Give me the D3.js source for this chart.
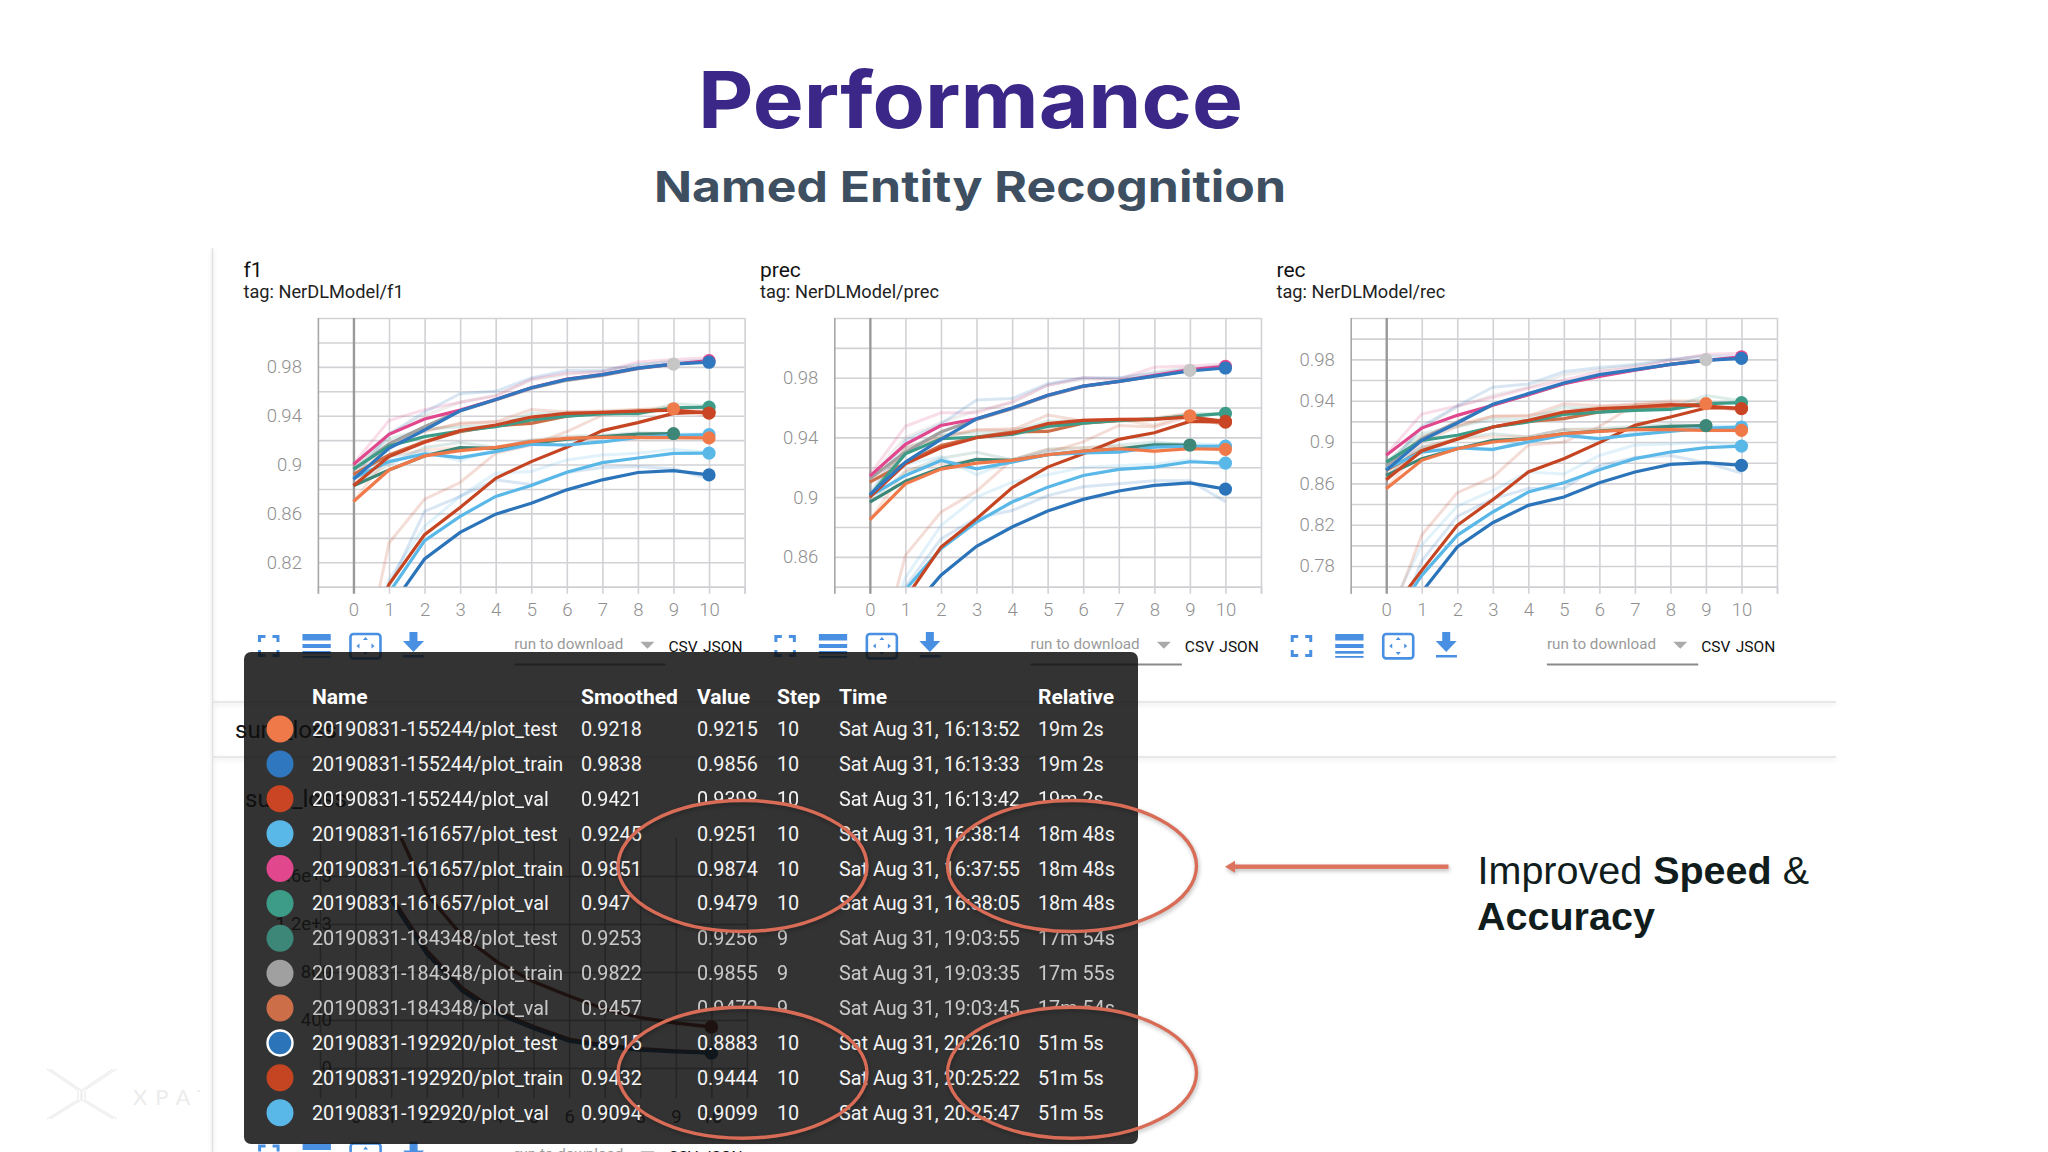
<!DOCTYPE html>
<html><head><meta charset="utf-8">
<script src="https://cdn.jsdelivr.net/npm/d3@7"></script>
<style>
html,body{margin:0;padding:0;background:#fff}
svg{display:block}
text{font-family:Roboto,sans-serif}
.soft{filter:drop-shadow(1px 2px 2px rgba(0,0,0,.28))}
.softer{filter:drop-shadow(0px 2px 2px rgba(0,0,0,.12))}
</style></head><body>
<svg id="c" width="2048" height="1152"></svg>
<script>
// ---------- run names, colours ----------
const runNames = ["20190831-155244/plot_test","20190831-155244/plot_train","20190831-155244/plot_val",
"20190831-161657/plot_test","20190831-161657/plot_train","20190831-161657/plot_val",
"20190831-184348/plot_test","20190831-184348/plot_train","20190831-184348/plot_val",
"20190831-192920/plot_test","20190831-192920/plot_train","20190831-192920/plot_val"];
const runColors = ["#f0794a","#2f78c0","#c94524","#5ab8e8","#e0478c","#3c9c88","#3d8778","#a0a0a0","#cc6e48","#2b74ba","#c54522","#5ab8e8"];
const endDotColors = ["#f0794a","#2f78c0","#c94524","#5ab8e8","#e0478c","#3c9c88","#3d8778","#c6c6c6","#ef7b4b","#2b74ba","#c54522","#5ab8e8"];
// ---------- tooltip table ----------
const tblSmoothed = ["0.9218","0.9838","0.9421","0.9245","0.9851","0.947","0.9253","0.9822","0.9457","0.8915","0.9432","0.9094"];
const tblValue = ["0.9215","0.9856","0.9398","0.9251","0.9874","0.9479","0.9256","0.9855","0.9472","0.8883","0.9444","0.9099"];
const tblStep = ["10","10","10","10","10","10","9","9","9","10","10","10"];
const tblTime = ["Sat Aug 31, 16:13:52","Sat Aug 31, 16:13:33","Sat Aug 31, 16:13:42","Sat Aug 31, 16:38:14","Sat Aug 31, 16:37:55","Sat Aug 31, 16:38:05","Sat Aug 31, 19:03:55","Sat Aug 31, 19:03:35","Sat Aug 31, 19:03:45","Sat Aug 31, 20:26:10","Sat Aug 31, 20:25:22","Sat Aug 31, 20:25:47"];
const tblRelative = ["19m 2s","19m 2s","19m 2s","18m 48s","18m 48s","18m 48s","17m 54s","17m 55s","17m 54s","51m 5s","51m 5s","51m 5s"];
const tblHeader = ["Name","Smoothed","Value","Step","Time","Relative"];
// ---------- f1 ----------
const f1Smooth = [
[.8698,.8956,.9071,.9114,.9141,.9188,.9215,.9223,.9223,.922,.9218],
[.888,.9133,.9283,.944,.9533,.9629,.9697,.9737,.9789,.9822,.9838],
[.8826,.9065,.9182,.9278,.9324,.9389,.9419,.9427,.9438,.9446,.9421],
[.8888,.9024,.9087,.9057,.9106,.9166,.916,.9185,.9223,.924,.9245],
[.9,.9248,.9373,.9446,.9533,.9629,.97,.9737,.9789,.9822,.9851],
[.8962,.9152,.9229,.9275,.931,.9365,.9397,.9414,.9419,.9465,.947],
[.8826,.8956,.9071,.9139,.9133,.9174,.9209,.9229,.925,.9253],
[.8956,.9169,.931,.9438,.9528,.9623,.969,.973,.9786,.9822],
[.892,.9079,.9188,.9269,.9318,.9337,.9397,.9424,.9435,.9457],
[.70,.7815,.8227,.8445,.8594,.8684,.8793,.8875,.8935,.8951,.8915],
[.73,.802,.8426,.8649,.8888,.9024,.9141,.9278,.9343,.9419,.9432],
[.72,.795,.8377,.8576,.8739,.8829,.8937,.9016,.9054,.9092,.9094]];
const f1Raw = [
[.87,.907,.912,.914,.913,.92,.922,.923,.921,.922,.9215],
[.889,.925,.943,.958,.96,.971,.977,.977,.982,.984,.9856],
[.883,.917,.927,.934,.935,.945,.943,.943,.945,.945,.9398],
[.889,.906,.911,.903,.913,.92,.915,.92,.925,.925,.9251],
[.9005,.936,.945,.951,.956,.97,.975,.976,.984,.986,.9874],
[.896,.921,.929,.931,.932,.942,.942,.943,.941,.95,.9479],
[.883,.90,.914,.918,.914,.92,.923,.924,.926,.9256],
[.896,.925,.94,.951,.957,.969,.974,.976,.981,.9855],
[.892,.914,.928,.933,.935,.937,.943,.944,.945,.9472],
[.71,.80,.8616,.8739,.8875,.8837,.8935,.8975,.8985,.8965,.8883],
[.70,.8358,.8717,.8853,.9092,.916,.927,.9405,.944,.945,.9444],
[.73,.806,.8494,.874,.8929,.8943,.9038,.9079,.9092,.9125,.9099]];
// ---------- prec ----------
const precSmooth = [
[.8848,.9089,.9188,.9228,.9246,.9284,.9308,.9324,.9308,.9324,.932],
[.9016,.9235,.9387,.9525,.9597,.9682,.9744,.9775,.9811,.9845,.9865],
[.90,.9223,.9331,.9398,.9429,.9492,.9514,.9521,.9523,.9536,.9507],
[.9007,.9145,.9246,.919,.9235,.9284,.9297,.9302,.9335,.934,.9342],
[.9141,.9353,.948,.9525,.9597,.9682,.9744,.9775,.9816,.9854,.9876],
[.9011,.929,.9391,.9402,.942,.9474,.9496,.9514,.9525,.9543,.9561],
[.8967,.9107,.9195,.9253,.9246,.9284,.9308,.9324,.9351,.9349],
[.9123,.9302,.9436,.9521,.9592,.9677,.9742,.9773,.9811,.9849],
[.91,.9228,.9346,.9402,.9436,.944,.9496,.9512,.9521,.9545],
[.75,.82,.8477,.8671,.88,.8907,.8985,.9041,.9079,.9096,.9054],
[.77,.832,.8666,.8855,.9063,.9201,.9291,.9387,.9431,.9507,.9503],
[.77,.838,.8655,.8833,.8967,.9067,.9145,.9186,.9201,.9237,.9228]];
const precRaw = [
[.885,.918,.922,.925,.925,.932,.933,.934,.93,.934,.932],
[.902,.938,.949,.965,.966,.976,.98,.98,.983,.986,.988],
[.90,.933,.94,.945,.945,.955,.951,.952,.953,.956,.948],
[.901,.922,.927,.915,.925,.931,.93,.932,.936,.936,.935],
[.915,.9475,.9565,.9565,.964,.975,.98,.979,.987,.988,.989],
[.901,.933,.942,.943,.944,.951,.951,.951,.952,.956,.956],
[.897,.917,.926,.93,.925,.932,.933,.935,.937,.935],
[.913,.94,.95,.958,.963,.975,.979,.979,.984,.987],
[.91,.93,.941,.945,.946,.946,.952,.952,.948,.956],
[.76,.84,.872,.886,.891,.901,.907,.909,.911,.911,.897],
[.77,.861,.89,.904,.925,.93,.937,.948,.947,.954,.948],
[.78,.846,.881,.90,.91,.915,.92,.921,.922,.925,.921]];
// ---------- rec ----------
const recSmooth = [
[.8548,.8823,.8935,.90,.9032,.9081,.9103,.9119,.9119,.9113,.9113],
[.8726,.9016,.9184,.9365,.9468,.9571,.9652,.97,.9752,.979,.981],
[.8635,.8913,.9026,.9145,.921,.929,.9323,.9339,.9361,.9348,.9323],
[.8742,.8903,.8942,.8929,.90,.9065,.9032,.9071,.9103,.9135,.9145],
[.8871,.9135,.9258,.9355,.9458,.9565,.9635,.9694,.9752,.979,.9823],
[.8806,.9016,.9065,.9145,.9194,.9268,.929,.9306,.9316,.9371,.9381],
[.8677,.8839,.8935,.9016,.9032,.9081,.9106,.9129,.9152,.9158],
[.8774,.9032,.9194,.9358,.9458,.9565,.9645,.9697,.9752,.9797],
[.8726,.8919,.9032,.9145,.92,.9226,.929,.9323,.9348,.9371],
[.70,.7548,.7984,.8219,.8387,.8468,.8606,.871,.8784,.88,.8774],
[.73,.7758,.8194,.8442,.871,.8839,.8994,.9161,.9242,.9329,.9329],
[.72,.771,.8097,.8323,.8516,.8606,.8732,.8839,.8903,.8945,.8961]];
const recRaw = [
[.855,.895,.903,.905,.905,.912,.912,.913,.912,.911,.911],
[.873,.915,.935,.953,.956,.968,.972,.975,.98,.983,.983],
[.864,.90,.915,.925,.925,.937,.935,.936,.938,.935,.93],
[.874,.895,.895,.892,.905,.912,.90,.91,.914,.916,.915],
[.888,.927,.935,.943,.952,.96,.968,.972,.979,.985,.986],
[.881,.908,.915,.922,.922,.934,.932,.934,.933,.945,.94],
[.868,.895,.903,.908,.905,.912,.913,.915,.917,.916],
[.878,.913,.934,.945,.953,.965,.97,.974,.979,.984],
[.873,.905,.917,.925,.926,.93,.934,.937,.94,.94],
[.70,.785,.828,.845,.855,.855,.877,.885,.887,.88,.87],
[.72,.81,.851,.866,.897,.90,.915,.936,.937,.935,.932],
[.73,.80,.838,.853,.871,.869,.887,.897,.898,.90,.897]];
// ---------- axis ticks ----------
const stepTicks = [0,1,2,3,4,5,6,7,8,9,10];
const stepGrid = [-1,0,1,2,3,4,5,6,7,8,9,10,11];
const f1Labels = [.82,.86,.9,.94,.98];
const f1Grid = [.8,.82,.84,.86,.88,.9,.92,.94,.96,.98,1,1.02];
const precLabels = [.86,.9,.94,.98];
const precGrid = [.84,.86,.88,.9,.92,.94,.96,.98,1,1.02];
const recLabels = [.78,.82,.86,.9,.94,.98];
const recGrid = [.76,.78,.8,.82,.84,.86,.88,.9,.92,.94,.96,.98,1,1.02];
// ---------- loss chart behind the tooltip ----------
const lossLabels = [0,400,800,1200,1600];
const lossNames = ["1.6e+3","1.2e+3","800","400","0"];
const lossSteps = [1,2,3,4,5,6,7,8,9,10];
const lossUpper = [2100,1450,1100,880,720,600,490,420,375,342];
const lossLower = [1400,950,640,450,330,225,180,150,135,125];
const lossLowerB = [1430,980,665,470,345,240,190,160,142,130];

const svg = d3.select("#c");
svg.append("rect").attr("width",2048).attr("height",1152).attr("fill","#fff");

// titles
svg.append("text").text("Performance").attr("x",698).attr("y",128)
  .attr("textLength",545).attr("lengthAdjust","spacingAndGlyphs")
  .style("font-family","Inter").style("font-weight",700).style("font-size","78px").attr("fill","#3b2788");
svg.append("text").text("Named Entity Recognition").attr("x",654).attr("y",202)
  .attr("textLength",632).attr("lengthAdjust","spacingAndGlyphs")
  .style("font-family","Inter").style("font-weight",700).style("font-size","43px").attr("fill","#3d4f61");

// watermark
const wm = svg.append("g").attr("fill","none").attr("stroke","#ececec").attr("stroke-width",1.2);
[[[46.7,1069],[78,1090],[78,1100],[46.7,1119]],[[116.7,1069],[85,1090],[85,1100],[116.7,1119]],
 [[50,1069],[81,1090],[81,1100],[50,1119]],[[113,1069],[82,1090],[82,1100],[113,1119]]]
 .forEach(p=>wm.append("path").attr("d",d3.line()(p)));
svg.append("defs").append("clipPath").attr("id","wmclip").append("rect").attr("x",120).attr("y",1070).attr("width",80).attr("height",50);
svg.append("g").attr("clip-path","url(#wmclip)").append("text").text("XPATI").attr("x",133).attr("y",1105)
  .style("font-family","Lato").style("font-size","22px").style("letter-spacing","8px").attr("fill","#ececec");

// page frame
const frame = svg.append("g").attr("class","softer").attr("stroke","#e2e2e2").attr("stroke-width",1.5);
frame.append("line").attr("x1",212.5).attr("x2",212.5).attr("y1",248).attr("y2",1152);
frame.append("line").attr("x1",212).attr("x2",1836).attr("y1",702).attr("y2",702);
frame.append("line").attr("x1",212).attr("x2",1836).attr("y1",757).attr("y2",757);

function toolbar(x0, dy){
  const g = svg.append("g").attr("transform",`translate(${x0},${dy})`);
  const blue="#4a90e2";
  // fullscreen
  g.append("path").attr("fill","none").attr("stroke",blue).attr("stroke-width",3)
   .attr("d","M-94,642V636.5H-88M-81,636.5H-75.5V642M-75.5,650V655.5H-81M-88,655.5H-94V650");
  // list
  [[634,6.5],[644,4],[651,2.7],[656,1.8]].forEach(b=>g.append("rect").attr("x",-51).attr("width",28.3).attr("y",b[0]).attr("height",b[1]).attr("fill",blue));
  // fit
  g.append("rect").attr("x",-3).attr("y",634).attr("width",30).attr("height",24.4).attr("rx",3).attr("fill","none").attr("stroke",blue).attr("stroke-width",2.6);
  g.append("path").attr("fill",blue).attr("d","M12,637l2.5,3h-5zM12,655l2.5,-3h-5zM3,646l3,-2.5v5zM21,646l-3,-2.5v5z");
  // download
  g.append("path").attr("fill",blue).attr("d","M56,632h8v9h6.5L60,652L49.5,641H56z");
  g.append("rect").attr("x",49.7).attr("y",655).attr("width",21).attr("height",2.5).attr("fill",blue);
  g.append("text").text("run to download").attr("x",160.7).attr("y",649).style("font-size","15.2px").attr("fill","#9a9a9a");
  g.append("path").attr("d","M287,641.7h14l-7,7z").attr("fill","#aaa");
  g.append("line").attr("x1",160.7).attr("x2",312).attr("y1",664.5).attr("y2",664.5).attr("stroke","#8a8a8a").attr("stroke-width",1.8);
  g.append("text").text("CSV").attr("x",315).attr("y",652).style("font-size","15.5px").attr("fill","#111");
  g.append("text").text("JSON").attr("x",349.5).attr("y",652).style("font-size","15.5px").attr("fill","#111");
}

function panel(o){
  const top=318,bottom=586.7;
  svg.append("text").text(o.title).attr("x",o.tx).attr("y",276.5).style("font-size","21px").attr("fill","#111");
  svg.append("text").text(o.tag).attr("x",o.tx).attr("y",298).style("font-size","18.2px").attr("fill","#222");
  const x=d3.scaleLinear().domain([-1,11]).range([o.left,o.right]);
  const y=d3.scaleLinear().domain(o.domain).range([bottom,top]);
  const w=o.right-o.left,h=bottom-top;
  const gy=svg.append("g").attr("transform",`translate(${o.left},0)`)
    .call(d3.axisLeft(y).tickValues(o.grid).tickSize(-w).tickFormat(""));
  gy.select(".domain").remove();
  gy.selectAll("line").attr("stroke","#d2d2d6").attr("stroke-width",1.6);
  const gx=svg.append("g").attr("transform",`translate(0,${bottom})`)
    .call(d3.axisBottom(x).tickValues(stepGrid).tickSize(7).tickFormat(""));
  gx.select(".domain").attr("stroke","#cfcfd2").attr("stroke-width",1.6);
  gx.selectAll("line").attr("y2",7).attr("y1",-h)
    .attr("stroke",d=>d===0?"#9a9a9a":d===-1?"#a8a8a8":"#d2d2d6")
    .attr("stroke-width",d=>d===0?2.4:1.6);
  const yl=svg.append("g").attr("transform",`translate(${o.left},0)`)
    .call(d3.axisLeft(y).tickValues(o.labels).tickSize(0).tickPadding(16).tickFormat(d3.format(".2~f")));
  yl.select(".domain").remove();
  yl.selectAll("text").style("font-family","Roboto").style("font-size","18.5px").style("font-weight",300).attr("fill","#8f8f8f");
  const xl=svg.append("g").attr("transform",`translate(0,${bottom})`)
    .call(d3.axisBottom(x).tickValues(stepTicks).tickSize(0).tickPadding(16).tickFormat(d3.format("d")));
  xl.select(".domain").remove();
  xl.selectAll("text").style("font-family","Roboto").style("font-size","18.5px").style("font-weight",300).attr("fill","#8f8f8f");

  const id="clip"+o.title;
  svg.select("defs").append("clipPath").attr("id",id).append("rect").attr("x",o.left).attr("y",top).attr("width",w).attr("height",h);
  const line=d3.line().x((d,i)=>x(i)).y(d=>y(d));
  const order=d3.range(11,-1,-1);
  const lines=svg.append("g").attr("clip-path",`url(#${id})`).attr("fill","none");
  order.forEach(i=>lines.append("path").attr("d",line(o.raw[i])).attr("stroke",runColors[i]).attr("stroke-width",3).attr("stroke-opacity",.18));
  order.forEach(i=>lines.append("path").attr("d",line(o.smooth[i])).attr("stroke",runColors[i]).attr("stroke-width",3.2));
  order.forEach(i=>{
    const s=o.smooth[i],n=s.length-1;
    svg.append("circle").attr("cx",x(n)).attr("cy",y(s[n])).attr("r",6.6).attr("fill",endDotColors[i]);
  });
  toolbar(x(0),0);
}
panel({title:"f1",tag:"tag: NerDLModel/f1",tx:243.5,left:317.9,right:744.6,domain:[.8,1.02],grid:f1Grid,labels:f1Labels,smooth:f1Smooth,raw:f1Raw});
panel({title:"prec",tag:"tag: NerDLModel/prec",tx:760,left:834.3,right:1261,domain:[.84,1.02],grid:precGrid,labels:precLabels,smooth:precSmooth,raw:precRaw});
panel({title:"rec",tag:"tag: NerDLModel/rec",tx:1276.5,left:1350.7,right:1777,domain:[.76,1.02],grid:recGrid,labels:recLabels,smooth:recSmooth,raw:recRaw});

// the next row of the dashboard, mostly hidden behind the tooltip
toolbar(353.6,509.5);
svg.append("text").text("sum_loss").attr("x",235).attr("y",738).style("font-size","24px").attr("fill","#111");
svg.append("text").text("sum_loss").attr("x",245).attr("y",807).style("font-size","24px").attr("fill","#111");
const lx=d3.scaleLinear().domain([-1,11]).range([320,747]);
const ly=d3.scaleLinear().domain([0,1600]).range([1068,876]);
const lg=svg.append("g");
const lgy=lg.append("g").attr("transform","translate(320,0)").call(d3.axisLeft(ly).tickValues(lossLabels).tickSize(-427).tickPadding(-12).tickFormat((d,i)=>lossNames[4-i]));
lgy.select(".domain").remove();
lgy.selectAll("line").attr("stroke","#999").attr("stroke-width",1.5);
lgy.selectAll("text").style("font-family","Roboto").style("font-size","18.5px").attr("fill","#333");
const lgx=lg.append("g").attr("transform","translate(0,1098)").call(d3.axisBottom(lx).tickValues(stepGrid).tickSize(-260).tickFormat(""));
lgx.select(".domain").remove();
lgx.selectAll("line").attr("stroke","#999").attr("stroke-width",1.5);
const lgl=lg.append("g").attr("transform","translate(0,1098)").call(d3.axisBottom(lx).tickValues(stepTicks).tickSize(0).tickPadding(12).tickFormat(d3.format("d")));
lgl.select(".domain").remove();
lgl.selectAll("text").style("font-family","Roboto").style("font-size","18.5px").attr("fill","#333");
const ll=d3.line().x((d,i)=>lx(lossSteps[i])).y(d=>ly(d));
svg.select("defs").append("clipPath").attr("id","lossclip").append("rect").attr("x",320).attr("y",838).attr("width",427).attr("height",260);
const lossg=lg.append("g").attr("clip-path","url(#lossclip)").attr("fill","none").attr("stroke-width",3.4);
lossg.append("path").attr("d",ll(lossUpper)).attr("stroke","#6e2412");
lossg.append("path").attr("d",ll(lossLowerB)).attr("stroke","#6e2412");
lossg.append("path").attr("d",ll(lossLower)).attr("stroke","#123f66");
lg.append("circle").attr("cx",lx(10)).attr("cy",ly(342)).attr("r",6.8).attr("fill","#6e2412");
lg.append("circle").attr("cx",lx(10)).attr("cy",ly(125)).attr("r",6.8).attr("fill","#123f66");

// tooltip
svg.append("rect").attr("x",244).attr("y",652).attr("width",894).attr("height",492).attr("rx",7).attr("fill","rgb(15,15,15)").attr("fill-opacity",.85);
const cols=[312,581,697,777,839,1038];
const rowY=d3.scaleLinear().domain([0,11]).range([729,1112.7]);
const tt=svg.append("g").attr("fill","#f4f4f4").style("font-size","19.8px");
tblHeader.forEach((h,i)=>tt.append("text").text(h).attr("x",cols[i]).attr("y",704).style("font-weight",700).style("font-size","21px").attr("fill","#fff"));
const ellipses=[[742.5,866],[1072,866],[742.5,1072.8],[1072,1072.8]];
const mask=svg.select("defs").append("mask").attr("id","em").attr("maskUnits","userSpaceOnUse").attr("x",0).attr("y",0).attr("width",2048).attr("height",1152);
mask.append("rect").attr("width",2048).attr("height",1152).attr("fill","#fff");
ellipses.forEach(e=>mask.append("ellipse").attr("cx",e[0]).attr("cy",e[1]).attr("rx",124.5).attr("ry",65.5).attr("fill","#000"));
runNames.forEach((n,i)=>{
  const rg=tt.append("g").attr("opacity",i>=6&&i<=8?.78:1);
  if(i===2||i===8) rg.attr("mask","url(#em)");
  const yy=rowY(i)+7;
  [n,tblSmoothed[i],tblValue[i],tblStep[i],tblTime[i],tblRelative[i]].forEach((t,j)=>
    rg.append("text").text(t).attr("x",cols[j]).attr("y",yy));
  const c=svg.append("circle").attr("cx",280).attr("cy",rowY(i)).attr("fill",runColors[i]);
  if(i===9) c.attr("r",12.5).attr("stroke","#fff").attr("stroke-width",2.4);
  else c.attr("r",13.5);
});

// annotations
const ann=svg.append("g").attr("class","soft");
ellipses.forEach(e=>ann.append("ellipse").attr("cx",e[0]).attr("cy",e[1]).attr("rx",124.5).attr("ry",65.5)
  .attr("fill","none").attr("stroke","#d96c56").attr("stroke-width",3.4));
ann.append("rect").attr("x",1232).attr("y",864.5).attr("width",216.5).attr("height",4.4).attr("fill","#dd735e");
ann.append("path").attr("d","M1225,866.7L1235,860.7V872.7Z").attr("fill","#dd735e");
const note=svg.append("text").attr("x",1477.5).attr("y",884).style("font-family","'Liberation Sans'").style("font-size","39.5px").attr("fill","#111d1d");
note.append("tspan").text("Improved ");
note.append("tspan").text("Speed").style("font-weight",700);
note.append("tspan").text(" &");
svg.append("text").text("Accuracy").attr("x",1477).attr("y",930).style("font-family","'Liberation Sans'").style("font-weight",700).style("font-size","39.5px").attr("fill","#111d1d");
</script>
</body></html>
